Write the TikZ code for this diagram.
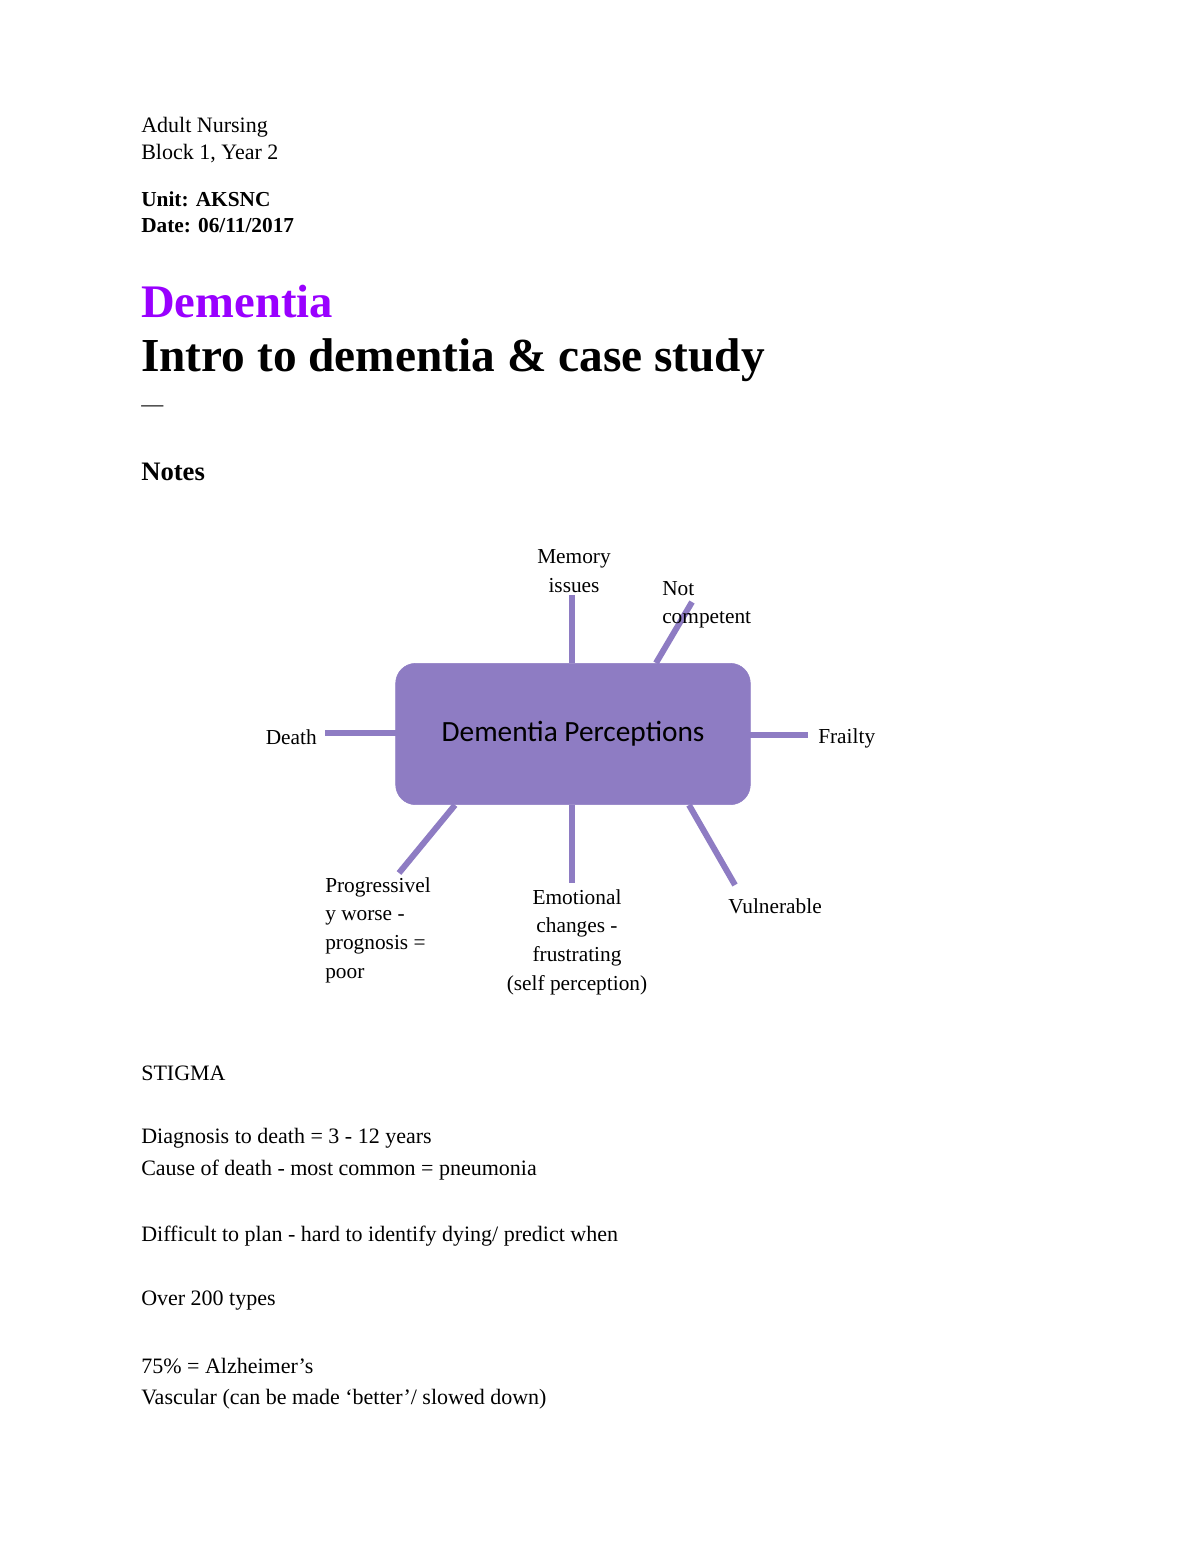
\documentclass[tikz,border=0pt]{standalone}
\usepackage{fontspec}
\setmainfont{Liberation Serif}
\newfontfamily\carlitofont{Carlito}
\begin{document}
\begin{tikzpicture}[x=0.75pt,y=-0.75pt,
  txt/.style={anchor=west,inner sep=0pt,font=\fontsize{16.5}{18}\selectfont},
  lbl/.style={inner sep=0pt,font=\fontsize{16}{21.5}\selectfont,align=center},
  spoke/.style={line width=4.5pt,draw={rgb,255:red,142;green,124;blue,195}}]
\useasboundingbox (0,0) rectangle (1200,1553);
\node[txt] (t1) at (141,127) {Adult Nursing};
\node[txt] (t2) at (141,154) {Block 1, Year 2};
\node[txt,font=\bfseries\fontsize{16}{18}\selectfont] (t3) at (141,199) {Unit: AKSNC};
\node[txt,font=\bfseries\fontsize{16}{18}\selectfont] (t4) at (141,226) {Date: 06/11/2017};
\node[txt,font=\bfseries\fontsize{35}{36}\selectfont,text={rgb,255:red,153;green,0;blue,255}] (t5) at (141,302) {Dementia};
\node[txt,font=\bfseries\fontsize{35.5}{36}\selectfont] (t6) at (141,360) {Intro to dementia \& case study};
\node[txt] (t7) at (141,409) {—};
\node[txt,font=\bfseries\fontsize{20}{22}\selectfont] (t8) at (141,472) {Notes};
\node[draw={rgb,255:red,142;green,124;blue,195},fill={rgb,255:red,142;green,124;blue,195},rounded corners=15pt,minimum width=266pt,minimum height=106pt,font=\carlitofont\fontsize{22}{24}\selectfont] (c) at (573,734) {Dementia Perceptions};
\coordinate (m1) at (572,663); \coordinate (m2) at (572,595);
\coordinate (n1) at (656,663); \coordinate (n2) at (692,602);
\coordinate (d1) at (396,733); \coordinate (d2) at (325,733);
\coordinate (f1) at (750,735); \coordinate (f2) at (808,735);
\coordinate (p1) at (455,805); \coordinate (p2) at (399,873);
\coordinate (e1) at (572,805); \coordinate (e2) at (572,883);
\coordinate (v1) at (689,805); \coordinate (v2) at (735,885);
\foreach \a/\b in {m1/m2,n1/n2,d1/d2,f1/f2,p1/p2,e1/e2,v1/v2} \draw[spoke] (\a)--(\b);
\node[lbl] (lm) at (574,571) {Memory\\issues};
\node[lbl,align=left,anchor=north west] (ln) at (662,581) {Not\\competent};
\node[lbl,anchor=east] (ld) at (317,737) {Death};
\node[lbl,anchor=west] (lf) at (818,738) {Frailty};
\node[lbl,align=left,anchor=north west] (lp) at (325,877) {Progressivel\\y worse -\\prognosis =\\poor};
\node[lbl,anchor=north] (le) at (577,889) {Emotional\\changes -\\frustrating\\(self perception)};
\node[lbl] (lv) at (775,906) {Vulnerable};
\node[txt] (b1) at (141,1073) {STIGMA};
\node[txt] (b2) at (141,1138) {Diagnosis to death = 3 - 12 years};
\node[txt] (b3) at (141,1170) {Cause of death - most common = pneumonia};
\node[txt] (b4) at (141,1236) {Difficult to plan - hard to identify dying/ predict when};
\node[txt] (b5) at (141,1301) {Over 200 types};
\node[txt] (b6) at (141,1366) {75\% = Alzheimer's};
\node[txt] (b7) at (141,1399) {Vascular (can be made ‘better’/ slowed down)};
\end{tikzpicture}
\end{document}
